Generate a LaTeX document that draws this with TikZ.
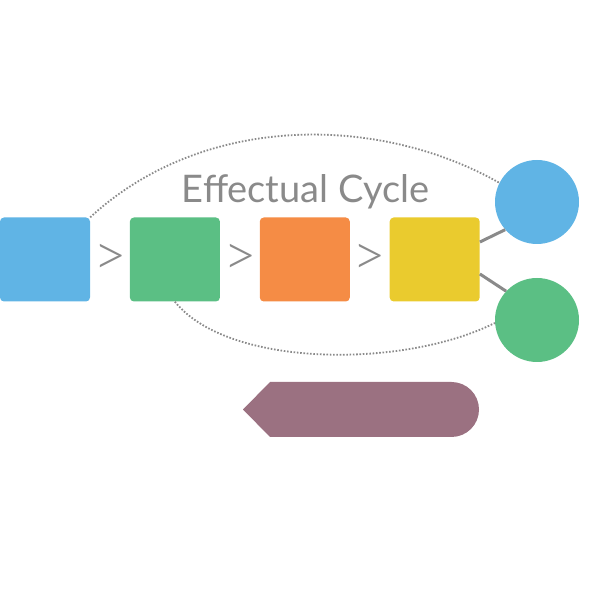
\documentclass[tikz,border=0pt]{standalone}
\usepackage{fontspec}
\setmainfont{Lato}
\newfontfamily\lightfont{Lato Light}
\usetikzlibrary{positioning}
\definecolor{cblue}{HTML}{60B4E5}
\definecolor{cgreen}{HTML}{5BBF84}
\definecolor{corange}{HTML}{F58C45}
\definecolor{cyellow}{HTML}{EACB2E}
\definecolor{cplum}{HTML}{9B7181}
\definecolor{cgrey}{HTML}{8A8A8A}

\begin{document}
\begin{tikzpicture}[
  x=1pt,y=1pt,
  square/.style={rectangle,rounded corners=4pt,minimum width=90pt,minimum height=84pt,inner sep=0pt},
  disc/.style={circle,minimum size=84pt,inner sep=0pt},
  gt/.style={text=cgrey,font=\lightfont\fontsize{58}{58}\selectfont},
  title/.style={text=cgrey,font=\fontsize{38}{42}\selectfont,anchor=base},
  cycle/.style={cgrey,line width=1.8pt,dash pattern=on 1.6pt off 1.7pt},
  link/.style={cgrey,line width=3pt}]

  \useasboundingbox (0,0) rectangle (600,600);

  % The four steps in a row
  \node[square,fill=cblue] (Means) at (45,340.5) {};
  \node[square,fill=cgreen,right=39.5pt of Means] (Goals) {};
  \node[square,fill=corange,right=39.5pt of Goals] (Partners) {};
  \node[square,fill=cyellow,right=39.5pt of Partners] (Commit) {};

  % The two outcomes
  \node[disc,fill=cblue] (NewMeans) at (537,398) {};
  \node[disc,fill=cgreen] (NewGoals) at (537,280) {};

  % Signs between the steps
  \path (Means) -- node[gt] {>} (Goals);
  \path (Goals) -- node[gt] {>} (Partners);
  \path (Partners) -- node[gt] {>} (Commit);

  \node[title] (Cycle) at (305.5,397) {Effectual Cycle};

  % The dotted cycle and the links
  \draw[cycle] (Means.north east) .. controls +(113,104) and +(-122,69) .. (NewMeans.153);
  \draw[cycle] (Goals.south) .. controls +(53,-66) and +(-92,-46) .. (NewGoals.184);
  \draw[link] ([yshift=17.5pt]Commit.east) -- (NewMeans.221);
  \draw[link] ([yshift=-14.5pt]Commit.east) -- (NewGoals.137);

  % The pointed band below
  \fill[cplum] (243,190.5) -- (270,218) -- (451.5,218) arc[start angle=90,end angle=-90,radius=27.5] -- (270,163) -- cycle;
\end{tikzpicture}
\end{document}
